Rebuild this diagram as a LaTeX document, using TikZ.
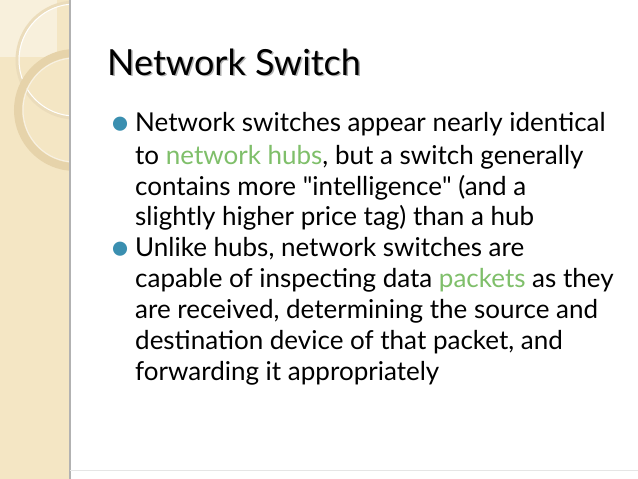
\documentclass[tikz,border=0pt]{standalone}
\usepackage{fontspec}
\setmainfont{Lato}
\newfontfamily\rawlato{Lato}
\definecolor{band}{HTML}{F4E6C4}
\definecolor{bul}{HTML}{3A8FB0}
\definecolor{lnk}{HTML}{7FBF6A}
\definecolor{ringc}{HTML}{E6D3AA}
\newcommand{\dq}{{\rawlato\symbol{34}}}
\tikzset{body/.style={anchor=base west,inner sep=0pt,font=\fontsize{26}{26}\selectfont},
 bull/.style={anchor=base west,inner sep=0pt,text=bul,font=\fontsize{38}{38}\selectfont}}
\begin{document}
\begin{tikzpicture}[x=1pt,y=-1pt]
\useasboundingbox (0,0) rectangle (638,479);
\fill[white] (0,0) rectangle (638,479);
\fill[band] (0,0) rectangle (70,479);
\fill[band!60!white] (0,0) rectangle (57,57);
\begin{scope}
\clip (0,0) rectangle (70,479);
\draw[ringc!80!white,line width=3pt] (75,60) circle (58);
\draw[white,line width=1pt] (75,60) circle (56);
\draw[ringc,line width=8pt] (75,110) circle (57);
\draw[white!70!ringc,line width=1pt] (75,110) circle (52);
\end{scope}
\draw[gray!60,line width=1.5pt] (70,0) -- (70,479);
\draw[gray!20] (70,470) -- (638,470);
\node[anchor=base west,inner sep=0pt,text=gray!60,font=\fontsize{36}{36}\selectfont] at (108.5,76.5) {Network Switch};
\node (t) [anchor=base west,inner sep=0pt,font=\fontsize{36}{36}\selectfont] at (107,75) {Network Switch};
\node (b1) [bull] at (109,135) {\textbullet};
\node (l1) [body] at (135,131) {Network switches appear nearly identical};
\node (l2) [body] at (135,164) {to \textcolor{lnk}{network hubs}, but a switch generally};
\node (l3) [body] at (135,195) {contains more \dq intelligence\dq{} (and a};
\node (l4) [body] at (135,225) {slightly higher price tag) than a hub};
\node (b2) [bull] at (109,260) {\textbullet};
\node (l5) [body] at (135,256) {Unlike hubs, network switches are};
\node (l6) [body] at (135,287) {capable of inspecting data \textcolor{lnk}{packets} as they};
\node (l7) [body] at (135,318) {are received, determining the source and};
\node (l8) [body] at (135,349) {destination device of that packet, and};
\node (l9) [body] at (135,380) {forwarding it appropriately};
\end{tikzpicture}
\end{document}
